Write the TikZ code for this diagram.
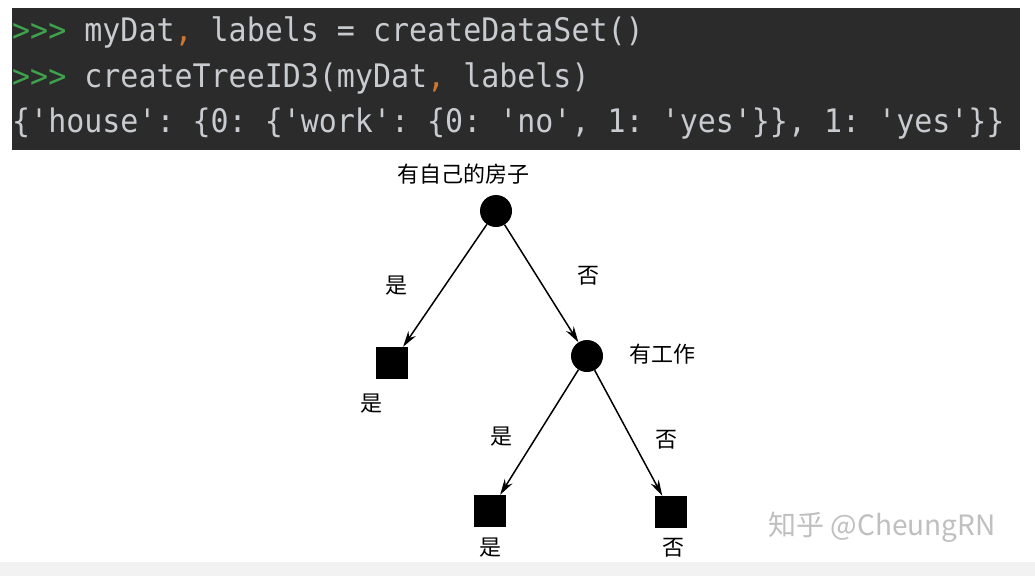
\documentclass[tikz,border=0pt]{standalone}
\usepackage{fontspec}
\setmonofont{DejaVu Sans Mono}
\newfontfamily\cjk{Noto Sans CJK SC}
\usetikzlibrary{arrows.meta}
\definecolor{panel}{HTML}{2B2B2B}
\definecolor{codefg}{HTML}{C8CCD0}
\definecolor{prompt}{HTML}{3FA34D}
\definecolor{comma}{HTML}{CC7832}
\newcommand{\codeline}[1]{\scalebox{1.11}[1.2]{#1}}
\tikzset{
  code/.style={anchor=west,inner sep=0pt,text=codefg,font=\ttfamily\fontsize{27}{27}\selectfont},
  dec/.style={circle,fill=black,minimum width=32pt,minimum height=30pt,inner sep=0pt},
  leaf/.style={rectangle,fill=black,minimum size=32pt,inner sep=0pt},
  lab/.style={inner sep=0pt,font=\cjk\fontsize{22}{22}\selectfont},
  edge/.style={draw=black,line width=1.5pt,-{Stealth[length=16pt,width=9pt]}},
  wm/.style={inner sep=0pt,text=black!25,font=\cjk\fontsize{28}{28}\selectfont}
}
\begin{document}
\begin{tikzpicture}[x=1pt,y=-1pt]
\useasboundingbox (0,0) rectangle (1035,576);
\fill[white] (0,0) rectangle (1035,576);
\fill[black!5] (0,562) rectangle (1035,576);
\fill[panel] (12,8) rectangle (1020,150);
\node[code] (l1) at (12,32) {\codeline{\textcolor{prompt}{>>>} myDat\textcolor{comma}{,} labels = createDataSet()}};
\node[code] (l2) at (12,78) {\codeline{\textcolor{prompt}{>>>} createTreeID3(myDat\textcolor{comma}{,} labels)}};
\node[code] (l3) at (12,124) {\codeline{\{'house': \{0: \{'work': \{0: 'no', 1: 'yes'\}\}, 1: 'yes'\}\}}};
\node[dec] (root) at (496,211) {};
\node[leaf] (yes1) at (392,363) {};
\node[dec] (work) at (587,356) {};
\node[leaf] (yes2) at (490,511) {};
\node[leaf] (no2) at (671,512) {};
\draw[edge] (root) -- (yes1);
\draw[edge] (root) -- (work);
\draw[edge] (work) -- (yes2);
\draw[edge] (work) -- (no2);
\node[lab] (troot) at (463,174) {有自己的房子};
\node[lab] (twork) at (662,354) {有工作};
\node[lab] (e1) at (396,286) {是};
\node[lab] (e2) at (588,276) {否};
\node[lab] (e3) at (501,437) {是};
\node[lab] (e4) at (666,440) {否};
\node[lab] (t1) at (371,404) {是};
\node[lab] (t2) at (490,548) {是};
\node[lab] (t3) at (673,548) {否};
\node[wm] (wmk) at (882,527) {知乎 @CheungRN};
\end{tikzpicture}
\end{document}
